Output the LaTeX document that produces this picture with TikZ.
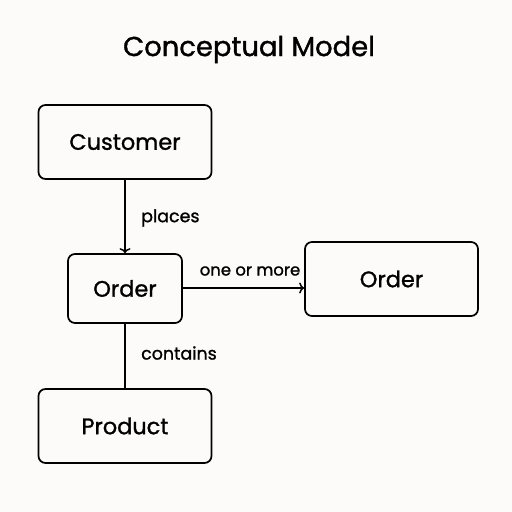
\documentclass[tikz,border=0pt]{standalone}
\usepackage{fontspec}
\setmainfont{Poppins}[FakeBold=1.2]
\usetikzlibrary{arrows.meta}
\definecolor{bg}{RGB}{252,251,249}
\begin{document}
\begin{tikzpicture}[x=1bp,y=-1bp,
  ent/.style={draw=black,line width=1.7bp,rounded corners=7bp,fill=bg,inner sep=0pt,font=\fontsize{22.5}{24}\selectfont},
  conn/.style={draw=black,line width=1.5bp},
  lbl/.style={font=\fontsize{17.5}{19}\selectfont,inner sep=0pt}]
\fill[bg] (0,0) rectangle (512,512);
\useasboundingbox (0,0) rectangle (512,512);
\node[font=\fontsize{27.5}{30}\selectfont] (title) at (249,49.5) {Conceptual Model};
\node[ent,minimum width=173bp,minimum height=74bp] (cust) at (125,142) {Customer};
\node[ent,minimum width=114bp,minimum height=69bp] (ord1) at (125,288.5) {Order};
\node[ent,minimum width=173bp,minimum height=74bp] (ord2) at (391.5,279) {Order};
\node[ent,minimum width=173bp,minimum height=74bp] (prod) at (125,426) {Product};
\draw[conn,-{To[length=5bp,width=11bp]}] (cust.south) -- (ord1.north);
\node[lbl,anchor=west] (lp) at (141,218) {places};
\coordinate (h1) at (ord1.east |- 0,288);
\coordinate (h2) at (ord2.west |- 0,288);
\draw[conn,-{To[length=5bp,width=11bp]}] (h1) -- (h2);
\node[lbl,font=\fontsize{16.5}{18}\selectfont] (lo) at (250,271) {one or more};
\draw[conn] (ord1.south) -- (prod.north);
\node[lbl,anchor=west] (lc) at (141,353) {contains};
\end{tikzpicture}
\end{document}
